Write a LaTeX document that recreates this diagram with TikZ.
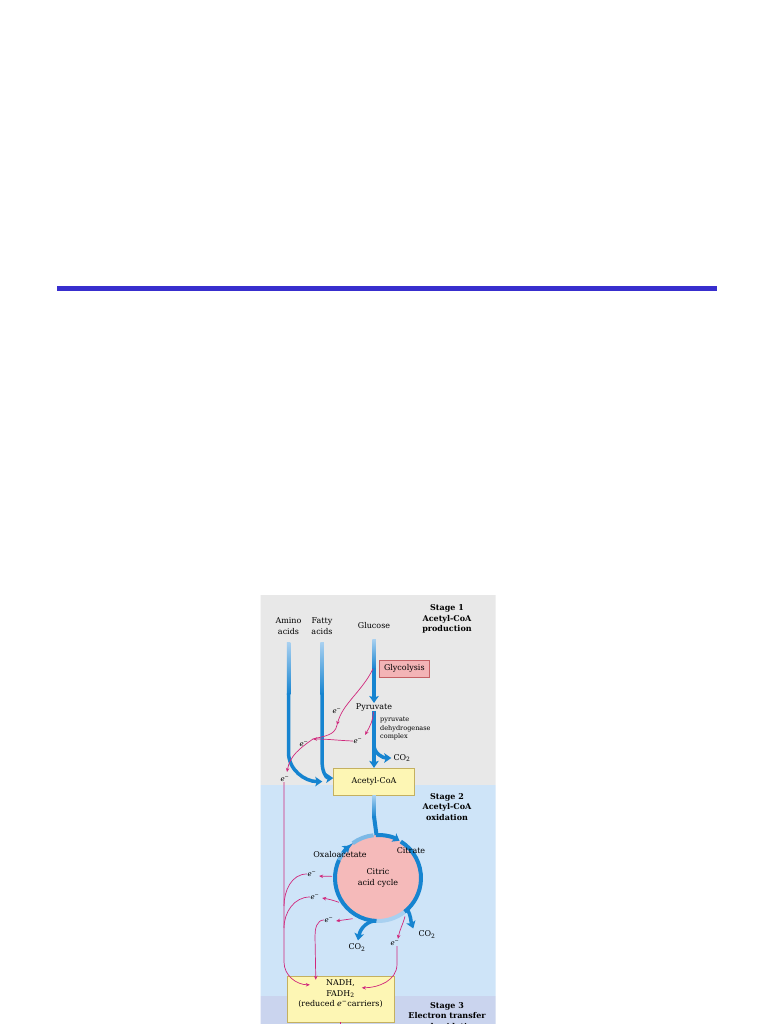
\documentclass[tikz,border=0pt]{standalone}
\usepackage{fontspec}
\setmainfont{DejaVu Serif}
\usepackage{tikz}
\usetikzlibrary{positioning,arrows.meta,calc}

\definecolor{rulecol}{RGB}{56,46,206}
\definecolor{flowblue}{RGB}{22,132,208}
\definecolor{flowlight}{RGB}{168,208,240}
\definecolor{emag}{RGB}{208,40,124}
\definecolor{stageone}{RGB}{232,232,232}
\definecolor{stagetwo}{RGB}{206,228,248}
\definecolor{stagethree}{RGB}{202,212,238}
\definecolor{cyclefill}{RGB}{245,186,186}
\definecolor{boxfill}{RGB}{253,246,180}
\definecolor{boxedge}{RGB}{196,176,96}
\definecolor{glyfill}{RGB}{243,180,182}
\definecolor{glyedge}{RGB}{196,96,100}

\newcommand{\elec}{\textit{e}\textsuperscript{−}}

\begin{document}
\begin{tikzpicture}[x=1pt,y=1pt]
    \tikzstyle{txt} = [align=center, inner sep=0pt, font=\fontsize{8}{10.5}\selectfont]
    \tikzstyle{smalltxt} = [align=left, inner sep=0pt, font=\fontsize{6.5}{8.3}\selectfont]
    \tikzstyle{stagetxt} = [align=center, inner sep=0pt, font=\fontsize{8}{10.5}\selectfont\bfseries]
    \tikzstyle{carrier} = [rectangle, draw=boxedge, fill=boxfill, inner sep=0pt, align=center, font=\fontsize{8}{10.5}\selectfont]
    \tikzstyle{enzyme} = [rectangle, draw=glyedge, fill=glyfill, inner sep=0pt, font=\fontsize{8}{10.5}\selectfont]
    \tikzstyle{elabel} = [inner sep=0.5pt, font=\fontsize{7}{8}\selectfont]
    \tikzstyle{bigarrow} = [draw=flowblue, line width=3.5pt, -{Stealth[length=7pt,width=9.5pt,inset=1.5pt]}]
    \tikzstyle{ring} = [draw=flowblue, line width=4pt]
    \tikzstyle{ringarrow} = [ring, -{Stealth[length=6.5pt,width=9.5pt,inset=1.5pt]}]
    \tikzstyle{eline} = [draw=emag, line width=0.7pt]
    \tikzstyle{earrow} = [eline, -{Stealth[length=4pt,width=3.5pt]}]

    \useasboundingbox (0,0) rectangle (768,1024);
    \fill[white] (0,0) rectangle (768,1024);

    % title rule
    \fill[rulecol] (57,733) rectangle (717,738);

    \begin{scope}
    \clip (260.5,0) rectangle (495.5,429);

    % stage panels
    \fill[stageone] (260,239) rectangle (496,429);
    \fill[stagetwo] (260,28) rectangle (496,239);
    \fill[stagethree] (260,0) rectangle (496,28);

    % Stage 1 nodes
    \node[txt] (amino) at (288.5,398) {Amino\\acids};
    \node[txt] (fatty) at (322,398) {Fatty\\acids};
    \node[txt] (glucose) at (374,398) {Glucose};
    \node[stagetxt] (stage1) at (447,405) {Stage 1\\Acetyl-CoA\\production};
    \node[enzyme, minimum width=50pt, minimum height=17pt] (glyco) at (404.3,355.3) {Glycolysis};
    \node[txt] (pyruvate) at (374,317) {Pyruvate};
    \node[smalltxt, anchor=west] (pdh) at (380,295.5) {pyruvate\\dehydrogenase\\complex};
    \node[txt] (co2a) at (402,266) {CO\textsubscript{2}};
    \node[carrier, minimum width=81pt, minimum height=27pt] (acoa) at (374,242.4) {Acetyl-CoA};

    % Stage 2 nodes
    \node[stagetxt] (stage2) at (447,217) {Stage 2\\Acetyl-CoA\\oxidation};
    \node[circle, fill=cyclefill, minimum size=86pt, txt] (cycle) at (378,146) {Citric\\acid cycle};
    \node[txt] (co2b) at (427,89.5) {CO\textsubscript{2}};
    \node[txt] (co2c) at (357,76.5) {CO\textsubscript{2}};

    % Stage 3 nodes
    \node[carrier, minimum width=107pt, minimum height=46pt] (nadh) at (340.5,25) {};
    \node[txt] (nadhtxt) at ($(nadh.center)+(0,5)$) {NADH,\\FADH\textsubscript{2}\\(reduced \elec carriers)};
    \node[stagetxt] (stage3) at (447,8) {Stage 3\\Electron transfer\\and oxidative};

    % electron labels
    \node[elabel] (ea) at (337,313) {\elec};
    \node[elabel] (epdh) at (358,283) {\elec};
    \node[elabel] (eb) at (304,280) {\elec};
    \node[elabel] (ec) at (285,245) {\elec};
    \node[elabel] (e1) at (312,150) {\elec};
    \node[elabel] (e2) at (315,127) {\elec};
    \node[elabel] (e3) at (329,104) {\elec};
    \node[elabel] (e4) at (395,81) {\elec};

    \coordinate (eatip) at (337,299);
    \coordinate (ejoin) at (313,285);
    \coordinate (ectip) at (287,252);

    % amino acids, fatty acids -> acetyl-CoA
    \shade[top color=flowlight, bottom color=flowblue] ($(amino.south)+(-1.75,-8)$) rectangle ($(amino.south)+(1.75,-60)$);
    \draw[bigarrow] ($(amino.south)+(0,-59)$) -- ($(amino.south)+(0,-118)$) to[out=-90,in=180] ($(acoa.west)+(-11,0)$);
    \shade[top color=flowlight, bottom color=flowblue] ($(fatty.south)+(-1.75,-8)$) rectangle ($(fatty.south)+(1.75,-60)$);
    \draw[bigarrow] ($(fatty.south)+(0,-59)$) -- ($(fatty.south)+(0,-128)$) to[out=-90,in=180] ($(acoa.west)+(0,3.5)$);

    % glucose -> pyruvate -> acetyl-CoA
    \shade[top color=flowlight, bottom color=flowblue] ($(glucose.south)+(-1.75,-10)$) rectangle ($(glucose.south)+(1.75,-40)$);
    \draw[bigarrow] ($(glucose.south)+(0,-39)$) -- (pyruvate.north);
    \draw[bigarrow] (pyruvate.south) -- (acoa.north);
    \coordinate (pdhsplit) at ($(pyruvate.south)!0.6!(acoa.north)$);
    \draw[bigarrow] (pdhsplit) to[out=-90,in=180] ($(co2a.west)+(-2,0)$);

    % acetyl-CoA -> citric acid cycle
    \shade[top color=flowlight, bottom color=flowblue] ($(acoa.south)+(-1.75,0)$) rectangle ($(acoa.south)+(1.75,-22)$);
    \draw[ring] ($(acoa.south)+(0,-21)$) -- ($(cycle.center)+(92:43)$);
    \draw[ringarrow] ($(cycle.center)+(93:43)$) arc[start angle=93, end angle=60, radius=43];
    \draw[ring] ($(cycle.center)+(58:43)$) arc[start angle=58, end angle=-52, radius=43];
    \draw[ring, draw=flowlight] ($(cycle.center)+(-52:43)$) arc[start angle=-52, end angle=-92, radius=43];
    \draw[ring] ($(cycle.center)+(-92:43)$) arc[start angle=-92, end angle=-205, radius=43];
    \draw[ring, draw=flowlight!60!flowblue] ($(cycle.center)+(155:43)$) arc[start angle=155, end angle=143, radius=43];
    \draw[ringarrow] ($(cycle.center)+(144:43)$) arc[start angle=144, end angle=131, radius=43];
    \draw[ring, draw=flowlight!70!flowblue] ($(cycle.center)+(126:43)$) arc[start angle=126, end angle=96, radius=43];

    % cycle intermediates
    \node[txt] (oxalo) at (340,169) {Oxaloacetate};
    \node[txt] (citrate) at (411,173) {Citrate};

    % CO2 from the cycle
    \draw[bigarrow] ($(cycle.center)+(-47:43)$) to[out=-60,in=110] ($(co2b.north west)+(-5,2)$);
    \draw[bigarrow] ($(cycle.center)+(-95:43)$) to[out=190,in=80] ($(co2c.north)+(1,3)$);

    % electrons, stage 1
    \draw[earrow] ($(glyco.west)+(-6,0)$) .. controls +(-12,-24) and +(6,22) .. (eatip);
    \draw[earrow] ($(pyruvate.south)+(-0.5,-1)$) to[out=-95,in=60] ($(epdh.north east)+(2,3)$);
    \draw[eline] (eatip) to[out=-100,in=15] (ejoin);
    \draw[earrow] (epdh.west) to[out=178,in=0] (ejoin);
    \draw[earrow] (ejoin) to[out=215,in=80] (ectip);
    \draw[earrow] ($(ec.south)+(-1,0)$) -- (284,62) to[out=-90,in=180] ($(nadh.north west)+(23,-9)$);

    % electrons, stage 2
    \draw[earrow] ($(cycle.center)+(178:46)$) to[out=175,in=-5] ($(e1.east)+(2,-2)$);
    \draw[eline] (e1.west) to[out=180,in=90] (284,118);
    \draw[earrow] ($(cycle.center)+(212:46)$) to[out=160,in=-10] ($(e2.east)+(2,-1)$);
    \draw[eline] (e2.west) to[out=180,in=90] (284,96);
    \draw[earrow] ($(cycle.center)+(238:48)$) -- ($(e3.east)+(2,-1)$);
    \draw[earrow] (e3.west) to[out=180,in=90] (315,88) -- ($(nadh.north west)+(29,-4)$);
    \draw[earrow] ($(cycle.center)+(-55:47)$) to[out=-105,in=80] ($(e4.north)+(3,1)$);
    \draw[earrow] ($(e4.south)+(2,0)$) -- ++(0,-18) to[out=-90,in=0] ($(nadh.north west)+(75,-12)$);

    % stage 3 outflow
    \draw[eline] (nadh.south) -- ++(0,-10);
    \end{scope}
\end{tikzpicture}
\end{document}
